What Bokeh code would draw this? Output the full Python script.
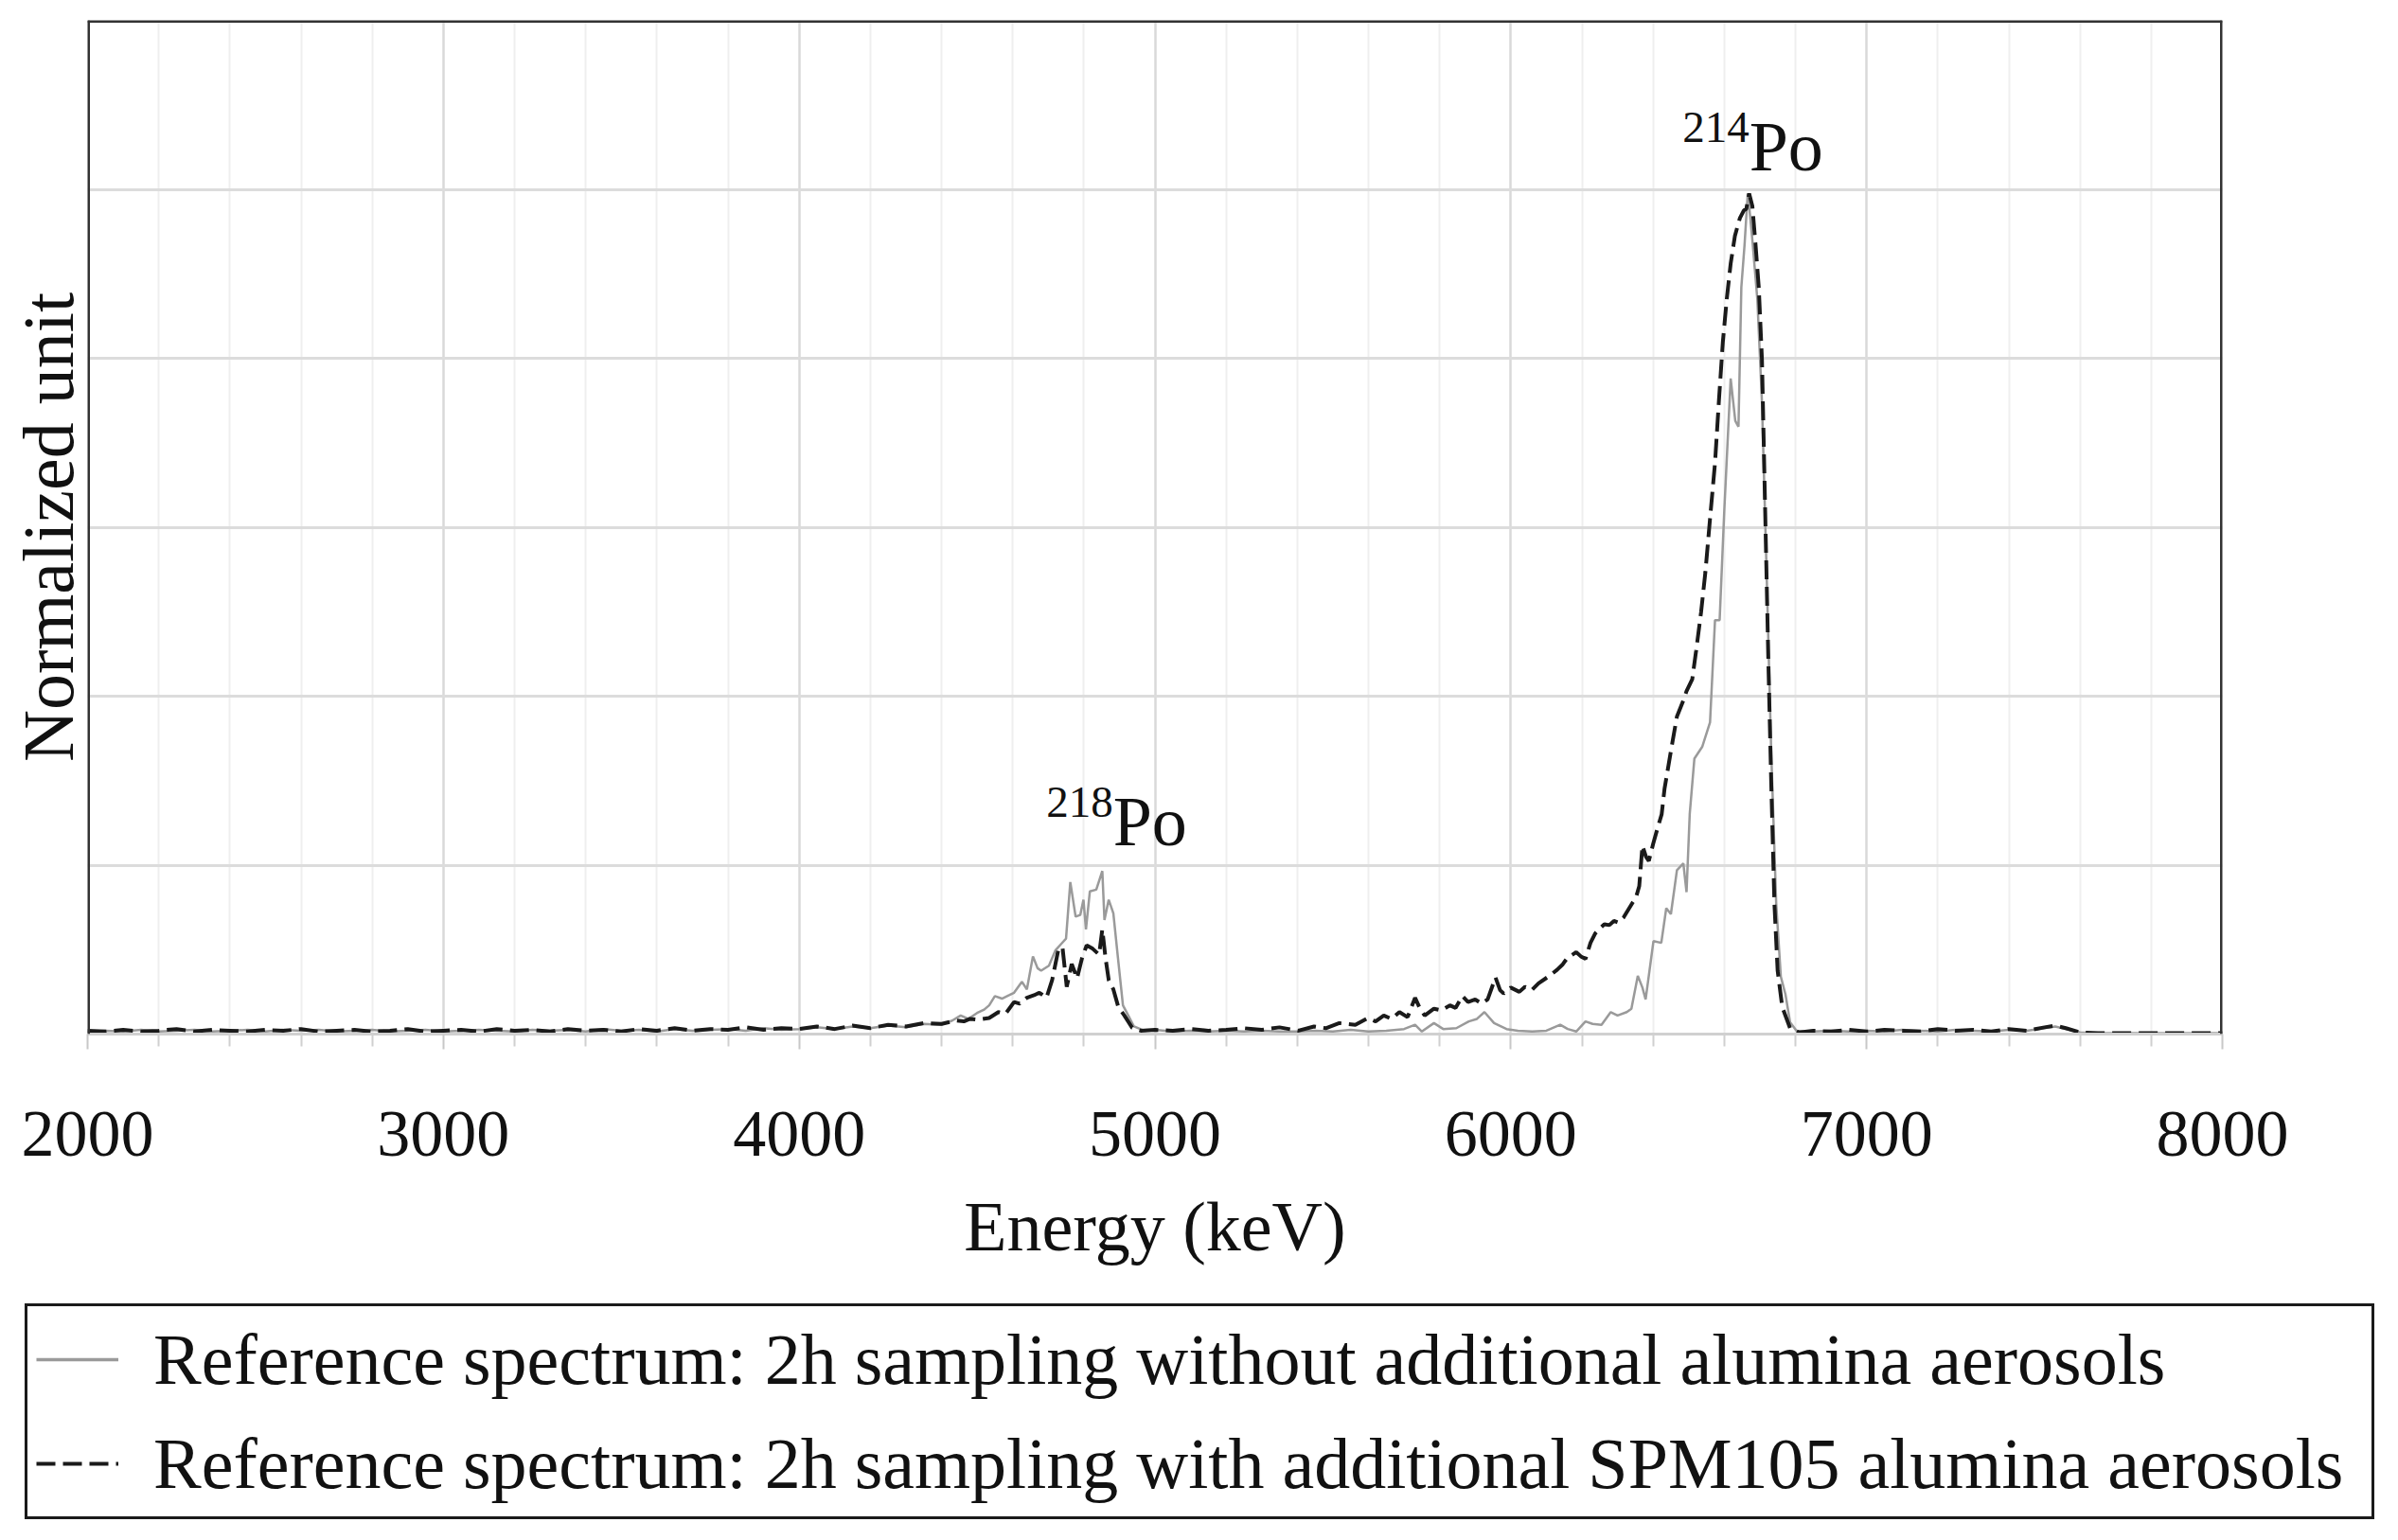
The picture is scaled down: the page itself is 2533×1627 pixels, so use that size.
from bokeh.plotting import figure
from bokeh.layouts import column
from bokeh.models import (Range1d, FixedTicker, Legend, LegendItem, ColumnDataSource, Span)
from bokeh.core.properties import value
from bokeh.embed import file_html
from bokeh.resources import INLINE

FONT = "Liberation Serif"

# ---- data ----
E_without = [2000, 2050, 2100, 2150, 2200, 2250, 2300, 2350, 2400, 2450, 2500, 2550, 2600, 2650,
             2700, 2750, 2800, 2850, 2900, 2950, 3000, 3050, 3100, 3150, 3200, 3250, 3300, 3350,
             3400, 3450, 3500, 3550, 3600, 3650, 3700, 3750, 3800, 3850, 3900, 3950, 4000, 4050,
             4100, 4150, 4200, 4250, 4300, 4350, 4400, 4430, 4454, 4475, 4500, 4520, 4534, 4550,
             4570, 4590, 4604, 4626, 4640, 4657, 4670, 4680, 4702, 4720, 4737, 4750, 4762, 4777,
             4790, 4799, 4806, 4817, 4835, 4852, 4858, 4870, 4883, 4896, 4910, 4925, 4941, 4970,
             5000, 5050, 5100, 5150, 5200, 5250, 5300, 5350, 5400, 5450, 5500, 5550, 5600, 5650,
             5700, 5731, 5750, 5784, 5810, 5847, 5882, 5905, 5926, 5953, 5988, 6020, 6060, 6100,
             6139, 6160, 6184, 6210, 6230, 6255, 6281, 6300, 6326, 6339, 6357, 6370, 6379, 6401,
             6423, 6437, 6450, 6467, 6485, 6494, 6503, 6516, 6538, 6560, 6574, 6587, 6600, 6618,
             6631, 6640, 6648, 6657, 6666, 6670, 6679, 6693, 6706, 6719, 6732, 6746, 6759, 6772,
             6785, 6803, 6850, 6900, 6950, 7000, 7050, 7100, 7150, 7200, 7250, 7300, 7350, 7400,
             7450, 7500, 7530, 7560, 7600, 7650, 8000]
v_without = [0.003, 0.004, 0.003, 0.005, 0.003, 0.004, 0.005, 0.003, 0.004, 0.005, 0.003, 0.005, 0.004, 0.005,
             0.003, 0.004, 0.005, 0.003, 0.004, 0.005, 0.003, 0.004, 0.005, 0.004, 0.003, 0.005, 0.004, 0.005,
             0.003, 0.006, 0.004, 0.005, 0.003, 0.006, 0.004, 0.005, 0.006, 0.004, 0.007, 0.005, 0.006, 0.008,
             0.006, 0.009, 0.007, 0.010, 0.008, 0.012, 0.011, 0.016, 0.022, 0.018, 0.025, 0.029, 0.034, 0.045,
             0.042, 0.046, 0.049, 0.062, 0.053, 0.092, 0.078, 0.075, 0.081, 0.099, 0.107, 0.113, 0.180, 0.139,
             0.141, 0.159, 0.124, 0.169, 0.171, 0.193, 0.135, 0.159, 0.143, 0.090, 0.034, 0.022, 0.009, 0.004,
             0.005, 0.003, 0.004, 0.003, 0.004, 0.003, 0.004, 0.003, 0.003, 0.004, 0.003, 0.005, 0.003, 0.004,
             0.006, 0.011, 0.003, 0.013, 0.006, 0.007, 0.015, 0.018, 0.026, 0.013, 0.006, 0.004, 0.003, 0.004,
             0.011, 0.006, 0.003, 0.015, 0.012, 0.011, 0.026, 0.022, 0.026, 0.030, 0.069, 0.055, 0.041, 0.110,
             0.108, 0.149, 0.142, 0.194, 0.202, 0.168, 0.261, 0.326, 0.340, 0.369, 0.490, 0.490, 0.619, 0.776,
             0.726, 0.719, 0.884, 0.934, 0.995, 0.980, 0.940, 0.870, 0.748, 0.547, 0.333, 0.154, 0.068, 0.047,
             0.014, 0.004, 0.003, 0.004, 0.003, 0.004, 0.003, 0.005, 0.004, 0.003, 0.005, 0.004, 0.003, 0.005,
             0.004, 0.007, 0.009, 0.006, 0.002, 0.001, 0.001]

E_with = [2000, 2050, 2100, 2150, 2200, 2250, 2300, 2350, 2400, 2450, 2500, 2550, 2600, 2650,
          2700, 2750, 2800, 2850, 2900, 2950, 3000, 3050, 3100, 3150, 3200, 3250, 3300, 3350,
          3400, 3450, 3500, 3550, 3600, 3650, 3700, 3750, 3800, 3850, 3900, 3950, 4000, 4050,
          4100, 4150, 4200, 4250, 4300, 4350, 4400, 4440, 4463, 4480, 4500, 4534, 4560, 4580,
          4604, 4620, 4640, 4660, 4675, 4695, 4711, 4728, 4740, 4752, 4766, 4781, 4795, 4808,
          4825, 4843, 4852, 4861, 4870, 4883, 4897, 4914, 4936, 4960, 5000, 5050, 5100, 5150,
          5200, 5250, 5300, 5350, 5403, 5447, 5480, 5518, 5563, 5598, 5620, 5643, 5665, 5687,
          5710, 5731, 5745, 5758, 5784, 5805, 5829, 5845, 5864, 5880, 5900, 5918, 5935, 5957,
          5970, 5980, 6000, 6024, 6040, 6059, 6078, 6095, 6112, 6130, 6145, 6157, 6170, 6184,
          6197, 6210, 6224, 6237, 6250, 6263, 6277, 6290, 6303, 6317, 6330, 6343, 6352, 6361,
          6370, 6380, 6388, 6400, 6414, 6424, 6432, 6450, 6467, 6485, 6494, 6510, 6521, 6535,
          6547, 6560, 6574, 6585, 6596, 6607, 6618, 6630, 6644, 6655, 6662, 6670, 6679, 6688,
          6697, 6706, 6715, 6724, 6732, 6741, 6750, 6763, 6785, 6811, 6850, 6900, 6950, 7000,
          7050, 7100, 7150, 7200, 7250, 7300, 7350, 7400, 7450, 7500, 7530, 7560, 7600, 7650,
          8000]
v_with = [0.004, 0.003, 0.005, 0.003, 0.004, 0.006, 0.003, 0.005, 0.004, 0.003, 0.005, 0.004, 0.006, 0.003,
          0.004, 0.005, 0.003, 0.004, 0.006, 0.003, 0.004, 0.005, 0.003, 0.006, 0.004, 0.005, 0.003, 0.006,
          0.004, 0.005, 0.003, 0.006, 0.004, 0.007, 0.004, 0.006, 0.005, 0.008, 0.005, 0.007, 0.006, 0.009,
          0.006, 0.010, 0.007, 0.011, 0.009, 0.013, 0.012, 0.016, 0.015, 0.018, 0.017, 0.019, 0.026, 0.024,
          0.038, 0.036, 0.043, 0.046, 0.049, 0.043, 0.064, 0.099, 0.103, 0.056, 0.083, 0.066, 0.090, 0.105,
          0.101, 0.094, 0.124, 0.090, 0.064, 0.053, 0.032, 0.022, 0.0075, 0.004, 0.005, 0.004, 0.006, 0.004,
          0.005, 0.007, 0.005, 0.008, 0.004, 0.009, 0.007, 0.013, 0.011, 0.019, 0.015, 0.022, 0.018, 0.026,
          0.020, 0.043, 0.030, 0.022, 0.030, 0.028, 0.034, 0.031, 0.045, 0.038, 0.041, 0.036, 0.041, 0.067,
          0.052, 0.048, 0.055, 0.050, 0.056, 0.052, 0.060, 0.065, 0.070, 0.076, 0.082, 0.089, 0.093, 0.097,
          0.092, 0.089, 0.108, 0.119, 0.125, 0.130, 0.129, 0.134, 0.132, 0.138, 0.147, 0.156, 0.162, 0.175,
          0.223, 0.210, 0.205, 0.225, 0.246, 0.260, 0.290, 0.335, 0.376, 0.395, 0.406, 0.420, 0.454, 0.500,
          0.547, 0.610, 0.676, 0.750, 0.819, 0.870, 0.912, 0.945, 0.966, 0.975, 0.977, 0.995, 0.980, 0.934,
          0.884, 0.798, 0.619, 0.440, 0.297, 0.154, 0.075, 0.032, 0.007, 0.002, 0.004, 0.003, 0.005, 0.003,
          0.005, 0.004, 0.003, 0.006, 0.004, 0.005, 0.003, 0.006, 0.004, 0.008, 0.010, 0.007, 0.002, 0.001,
          0.001]

x_ticks = [2000, 3000, 4000, 5000, 6000, 7000, 8000]
x_minor = [e for e in range(2200, 8000, 200) if e % 1000 != 0]
y_ticks = [0.0, 0.2, 0.4, 0.6, 0.8, 1.0, 1.2]

peak_names = ["Po", "Po"]
peak_mass = ["218", "214"]
peak_x = [4882, 6670]
peak_y = [0.251, 1.05]

legend_labels = ["Reference spectrum: 2h sampling without additional alumina aerosols",
                 "Reference spectrum: 2h sampling with additional SPM105 alumina aerosols"]

GRAY = dict(line_color="#9a9a9a", line_width=2.5)
DASH = dict(line_color="#1a1a1a", line_width=4, line_dash="20 8")


def no_frame_align(fig):
    if "frame_align" in fig.properties():
        fig.frame_align = False


# ---- main figure ----
p = figure(width=2517, height=1370, output_backend="svg", toolbar_location=None,
           x_range=Range1d(2000, 8000), y_range=Range1d(0, 1.2),
           min_border_left=92, min_border_right=170, min_border_top=21, min_border_bottom=278)
no_frame_align(p)
p.background_fill_color = "white"
p.border_fill_color = "white"
p.outline_line_color = None

p.xaxis.ticker = FixedTicker(ticks=x_ticks, minor_ticks=x_minor)
p.yaxis.ticker = FixedTicker(ticks=y_ticks)
p.xgrid.grid_line_color = "#d9d9d9"
p.xgrid.grid_line_width = 2.5
p.xgrid.minor_grid_line_color = "#efefef"
p.xgrid.minor_grid_line_width = 2
p.ygrid.grid_line_color = "#dcdcdc"
p.ygrid.grid_line_width = 3

ax = p.xaxis[0]
ax.axis_label = "Energy (keV)"
ax.axis_label_text_font = FONT
ax.axis_label_text_font_size = "74px"
ax.axis_label_text_font_style = "normal"
ax.axis_label_text_color = "#111111"
ax.axis_label_standoff = 31
ax.major_label_text_font = FONT
ax.major_label_text_font_size = "70px"
ax.major_label_text_color = "#111111"
ax.major_label_standoff = 66
ax.axis_line_color = "#d0d0d0"
ax.axis_line_width = 3
ax.major_tick_line_color = "#c8c8c8"
ax.major_tick_line_width = 2
ax.major_tick_in = 0
ax.major_tick_out = 16
ax.minor_tick_line_color = "#d0d0d0"
ax.minor_tick_line_width = 2
ax.minor_tick_in = 0
ax.minor_tick_out = 13

ay = p.yaxis[0]
ay.axis_label = "Normalized unit"
ay.axis_label_text_font = FONT
ay.axis_label_text_font_size = "76px"
ay.axis_label_text_font_style = "normal"
ay.axis_label_text_color = "#111111"
ay.axis_label_standoff = 0
ay.major_label_text_font_size = "1px"
ay.major_label_text_alpha = 0
ay.major_label_standoff = 0
ay.major_tick_in = 0
ay.major_tick_out = 0
ay.minor_tick_in = 0
ay.minor_tick_out = 0
ay.axis_line_color = None

# plot-area border: dark on left, right, top (bottom is the grey axis line)
for loc, dim in ((2000, "height"), (8000, "height"), (1.2, "width")):
    p.add_layout(Span(location=loc, dimension=dim, line_color="#333333", line_width=5))

p.line(E_without, v_without, **GRAY)
p.line(E_with, v_with, **DASH)

src = ColumnDataSource(dict(x=peak_x, y=peak_y, name=peak_names, mass=peak_mass))
p.text(x="x", y="y", text="name", source=src, text_font=value(FONT), text_font_size="74px",
       text_align="left", text_baseline="alphabetic", text_color="#111111")
p.text(x="x", y="y", text="mass", source=src, text_font=value(FONT), text_font_size="47px",
       text_align="right", text_baseline="alphabetic", text_color="#111111", y_offset=-21)

# ---- legend strip (separate figure so the box can span the full width) ----
q = figure(width=2517, height=241, output_backend="svg", toolbar_location=None,
           x_axis_location=None, y_axis_location=None,
           x_range=Range1d(2000, 8000), y_range=Range1d(10, 11),
           min_border_left=0, min_border_right=0, min_border_top=0, min_border_bottom=0)
no_frame_align(q)
q.outline_line_color = None
q.grid.visible = False
q.background_fill_color = "white"
q.border_fill_color = "white"
# same series, drawn outside this strip's view; they only feed the legend samples
lg_without = q.line(E_without, v_without, line_color="#9a9a9a", line_width=3.5)
lg_with = q.line(E_with, v_with, **DASH)

legend = Legend(items=[LegendItem(label=legend_labels[0], renderers=[lg_without]),
                       LegendItem(label=legend_labels[1], renderers=[lg_with])],
                location=(26, 6), orientation="vertical")
legend.label_text_font = FONT
legend.label_text_font_size = "76px"
legend.label_text_color = "#111111"
legend.glyph_width = 87
legend.glyph_height = 94
legend.label_height = 94
legend.label_width = 2334
legend.label_standoff = 37
legend.padding = 9
legend.spacing = 16
legend.margin = 0
legend.border_line_color = "#1a1a1a"
legend.border_line_alpha = 1.0
legend.border_line_width = 3
legend.background_fill_color = "white"
legend.background_fill_alpha = 1
q.add_layout(legend, "center")

layout = column(p, q, spacing=0)
open("out.html", "w").write(file_html(layout, INLINE))
